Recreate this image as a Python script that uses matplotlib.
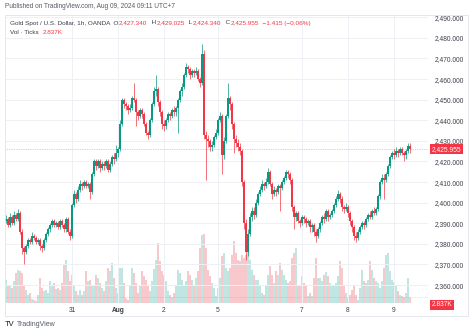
import matplotlib
matplotlib.use("Agg")
import matplotlib.pyplot as plt
import matplotlib.patches as mpatches
import matplotlib.transforms as mtransforms
import numpy as np
import pandas as pd

# hourly closes, XAUUSD (OANDA), Jul 29 14:00 -> Aug 9 09:00 UTC+7
closes = [
    2392, 2389, 2393, 2390, 2394, 2392, 2395, 2386, 2378, 2376,
    2379, 2382, 2381, 2384, 2383, 2381, 2382, 2379, 2378, 2382,
    2385, 2387, 2389, 2391, 2389, 2390, 2388, 2391, 2389, 2387,
    2392, 2386, 2384, 2399, 2404, 2402, 2406, 2409, 2408, 2410,
    2408, 2409, 2405, 2414, 2420, 2418, 2420, 2417, 2419, 2418,
    2420, 2416, 2419, 2422, 2421, 2424, 2426, 2438, 2450, 2448,
    2447, 2445, 2446, 2451, 2450, 2444, 2442, 2445, 2443, 2438,
    2434, 2433, 2440, 2448, 2454, 2455, 2449, 2444, 2438, 2437,
    2440, 2443, 2442, 2445, 2444, 2446, 2450, 2454, 2456, 2462,
    2466, 2465, 2462, 2464, 2463, 2464, 2460, 2458, 2472, 2433,
    2431, 2430, 2427, 2428, 2432, 2434, 2440, 2442, 2423, 2430,
    2442, 2451, 2448, 2438, 2431, 2429, 2427, 2425, 2410, 2390,
    2376, 2385, 2393, 2396, 2394, 2400, 2404, 2406, 2409, 2408,
    2410, 2415, 2409, 2404, 2406, 2405, 2408, 2407, 2410, 2412,
    2415, 2414, 2411, 2398, 2393, 2395, 2391, 2390, 2393, 2392,
    2390, 2391, 2388, 2389, 2386, 2384, 2387, 2390, 2393, 2392,
    2396, 2393, 2394, 2396, 2399, 2402, 2404, 2402, 2398, 2397,
    2398, 2395, 2391, 2388, 2384, 2383, 2386, 2388, 2390, 2389,
    2392, 2394, 2393, 2396, 2395, 2397, 2403, 2410, 2412, 2411,
    2414, 2418, 2422, 2424, 2423, 2425, 2424, 2426, 2424, 2423,
    2425, 2427.37, 2425.955,
]
first_open = 2391
last_open = 2427.34

highs = [
    2394, 2393, 2395, 2394, 2396, 2395, 2397, 2396, 2387, 2379,
    2380, 2383, 2383, 2386, 2385, 2384, 2383, 2383, 2380, 2383,
    2386, 2388, 2390, 2392, 2392, 2391, 2391, 2392, 2392, 2390,
    2393, 2393, 2387, 2400, 2406, 2405, 2408, 2411, 2410, 2411,
    2411, 2410, 2410, 2415, 2421, 2421, 2421, 2421, 2420, 2420,
    2421, 2421, 2420, 2423, 2424, 2428, 2427, 2440, 2451, 2451,
    2449, 2448, 2448, 2452, 2458, 2451, 2445, 2446, 2446, 2444,
    2439, 2435, 2441, 2449, 2456, 2462, 2456, 2450, 2445, 2440,
    2441, 2444, 2444, 2446, 2447, 2447, 2451, 2455, 2458, 2463,
    2468, 2467, 2466, 2465, 2465, 2466, 2465, 2461, 2477, 2474,
    2435, 2433, 2431, 2430, 2433, 2436, 2441, 2444, 2443, 2432,
    2443, 2458, 2452, 2449, 2439, 2433, 2431, 2429, 2426, 2411,
    2392, 2387, 2395, 2398, 2398, 2402, 2405, 2408, 2411, 2410,
    2412, 2417, 2416, 2410, 2408, 2407, 2409, 2409, 2411, 2413,
    2416, 2416, 2415, 2412, 2399, 2396, 2396, 2392, 2394, 2394,
    2393, 2392, 2392, 2390, 2390, 2387, 2388, 2391, 2394, 2395,
    2397, 2397, 2395, 2397, 2400, 2403, 2406, 2405, 2403, 2399,
    2400, 2399, 2396, 2392, 2389, 2386, 2387, 2389, 2391, 2391,
    2393, 2395, 2396, 2397, 2398, 2398, 2404, 2411, 2414, 2414,
    2415, 2419, 2423, 2425, 2426, 2427, 2426, 2427, 2427, 2425,
    2426, 2429, 2429.025,
]

lows = [
    2390, 2388, 2388, 2389, 2389, 2391, 2391, 2385, 2375, 2370,
    2375, 2378, 2380, 2380, 2382, 2380, 2380, 2377, 2376, 2377,
    2381, 2384, 2386, 2388, 2388, 2388, 2387, 2387, 2388, 2386,
    2386, 2385, 2382, 2383, 2398, 2400, 2401, 2405, 2406, 2407,
    2407, 2407, 2402, 2404, 2413, 2416, 2417, 2415, 2416, 2416,
    2417, 2415, 2415, 2418, 2419, 2420, 2422, 2425, 2437, 2446,
    2445, 2443, 2444, 2445, 2449, 2437, 2440, 2441, 2441, 2437,
    2433, 2431, 2432, 2439, 2447, 2452, 2447, 2442, 2436, 2435,
    2436, 2439, 2440, 2441, 2442, 2442, 2434, 2449, 2452, 2455,
    2461, 2463, 2460, 2461, 2461, 2462, 2459, 2456, 2457, 2431,
    2411, 2427, 2425, 2425, 2427, 2431, 2433, 2439, 2414, 2421,
    2429, 2441, 2445, 2436, 2424, 2427, 2425, 2423, 2408, 2387,
    2372, 2374, 2384, 2391, 2392, 2393, 2399, 2403, 2405, 2406,
    2407, 2409, 2408, 2402, 2403, 2403, 2404, 2396, 2406, 2409,
    2411, 2412, 2409, 2396, 2387, 2391, 2390, 2388, 2389, 2390,
    2388, 2389, 2386, 2386, 2384, 2381, 2383, 2386, 2389, 2390,
    2391, 2391, 2392, 2393, 2395, 2398, 2401, 2400, 2396, 2395,
    2396, 2393, 2389, 2386, 2382, 2381, 2382, 2385, 2387, 2387,
    2388, 2391, 2392, 2392, 2394, 2394, 2396, 2402, 2409, 2402,
    2410, 2413, 2417, 2421, 2421, 2422, 2422, 2423, 2423, 2420,
    2421, 2424, 2424.34,
]

# volume in thousands of ticks
volumes = [
    11.5, 9, 8.5, 7.5, 11, 15, 16.5, 16, 15, 9,
    6.5, 4, 5, 2, 1.5, 1, 4, 12.5, 7.5, 6,
    6.5, 5, 11, 8.5, 10, 7, 7.5, 6.5, 10, 19,
    21.5, 16, 11, 14, 8.5, 6, 4, 6.5, 4, 6,
    16, 11, 11.5, 9, 8.5, 14, 12.5, 10, 7.5, 6,
    11, 17.5, 16, 20, 12.5, 7.5, 5, 17.5, 17.5, 10,
    2.5, 1.5, 9, 17.5, 15, 10, 5, 8.5, 16, 13.5,
    11.5, 8.5, 6, 11, 17, 21.5, 30, 21, 16, 14,
    11, 6, 4, 3, 5, 9, 16.5, 15, 11.5, 9,
    11, 16, 14, 11.5, 9, 12.5, 16, 27.5, 34, 34.5,
    27.5, 16.5, 13.5, 10, 7.5, 3.5, 7.5, 12.5, 23.5, 25,
    17.5, 16, 17.5, 24, 31, 25, 21.5, 21, 24, 22.5,
    24, 27.5, 21.5, 16.5, 14, 11.5, 11.5, 8.5, 5, 4,
    9, 14, 18.5, 14, 10, 16, 14, 20, 16.5, 14,
    11.5, 10, 11, 22.5, 25, 27.5, 9, 8.5, 13.5, 10,
    8.5, 3.5, 5, 3.5, 12.5, 22.5, 12.5, 12.5, 11, 14,
    15.5, 13.5, 10, 9, 8.5, 10, 13.5, 21, 17.5, 9,
    5, 2.5, 4, 6.5, 9, 4, 1.5, 7.5, 16.5, 11,
    10, 11.5, 21, 16.5, 12.5, 11, 10, 7.5, 11, 17.5,
    24, 25, 16, 11.5, 10.5, 8.5, 6, 4, 3.5, 3,
    5, 12.5, 2.837,
]

shown_days = ["2024-07-31", "2024-08-01", "2024-08-02", "2024-08-05",
              "2024-08-07", "2024-08-08", "2024-08-09"]
day_labels = ["31", "Aug", "2", "5", "7", "8", "9"]
price_ticks = list(range(2360, 2500, 10))

UP = "#089981"
DOWN = "#f23645"
VOL_UP = "#84cdc5"
VOL_DOWN = "#f2959a"
GRID = "#eef0f5"
TXT = "#3a3e48"

plt.rcParams['font.family'] = ['Liberation Sans', 'DejaVu Sans']

# trading hours: daily break at 04:00, weekend from Sat 04:00 to Mon 05:00
hours = pd.date_range("2024-07-29 14:00", "2024-08-09 09:00", freq="h")
keep = []
for t in hours:
    if t.hour == 4:
        continue
    if t.dayofweek == 5 and t.hour > 4:
        continue
    if t.dayofweek == 6:
        continue
    if t.dayofweek == 0 and t.hour < 5:
        continue
    keep.append(t)
times = pd.DatetimeIndex(keep)
n = len(closes)
times = times[:n]
xs = np.arange(n)

c = np.array(closes, dtype=float)
o = np.concatenate([[first_open], c[:-1]])
o[-1] = last_open
h = np.array(highs, dtype=float)
l = np.array(lows, dtype=float)
v = np.array(volumes, dtype=float)
up = c >= o

W, H = 474, 335
fig = plt.figure(figsize=(W / 100, H / 100), dpi=100)
fig.patch.set_facecolor("white")

# chart pane, in pixels: x 5..428, y 15..303
ax = fig.add_axes([5 / W, 1 - 303 / H, 423 / W, 288 / H])
vax = ax.twinx()
ax.set_zorder(vax.get_zorder() + 1)
ax.patch.set_visible(False)

# volume
vcols = [VOL_UP if u else VOL_DOWN for u in up]
vbars = vax.bar(xs, v, width=0.5, color=vcols, linewidth=0)
for b in vbars:
    b.set_snap(False)
vax.set_ylim(0, 144)
vax.axis("off")

# candles
cols = np.where(up, UP, DOWN)
ax.vlines(xs, l, h, colors=cols, linewidth=0.5, zorder=3)
body = np.maximum(np.abs(c - o), 0.35)
ax.bar(xs, body, bottom=np.minimum(o, c), width=0.6, color=cols,
       linewidth=0, zorder=4)

ax.set_xlim(-0.5, 211)
ax.set_ylim(2351.3, 2491.1)

# grid
tick_pos = [int(np.argmax(times.normalize() == pd.Timestamp(d))) for d in shown_days]
for tp in tick_pos:
    ax.axvline(tp, color=GRID, linewidth=0.7, zorder=0)
for p in price_ticks:
    ax.axhline(p, color=GRID, linewidth=0.7, zorder=0)

# last price line
last = c[-1]
ax.axhline(last, color=DOWN, linewidth=0.5, linestyle=(0, (1, 1.5)), alpha=0.6, zorder=2)
vax.axhline(v[-1], color=DOWN, linewidth=0.5, linestyle=(0, (1, 1.5)), alpha=0.35)

for s in ax.spines.values():
    s.set_visible(False)

ax.set_xticks(tick_pos)
ax.set_xticklabels(day_labels)
ax.tick_params(axis="x", length=0, pad=3.2, labelsize=4.8, labelcolor=TXT)
for lab in ax.get_xticklabels():
    if lab.get_text() == "Aug":
        lab.set_fontweight("bold")

ax.yaxis.tick_right()
ax.set_yticks(price_ticks)
ax.set_yticklabels([f"{p:,.3f}" for p in price_ticks])
ax.tick_params(axis="y", length=0, pad=5, labelsize=4.8, labelcolor=TXT)

# price scale labels
trans = mtransforms.blended_transform_factory(ax.transAxes, ax.transData)
ax.text(1.008, last, f"{last:,.3f}", transform=trans, fontsize=4.8,
        color="white", va="center", ha="left",
        bbox=dict(boxstyle="square,pad=0.25", fc=DOWN, ec="none"), zorder=10)
fig.text(432 / W, 1 - 305 / H, f"{v[-1]:.3f}K", fontsize=4.8, color="white",
         va="center", ha="left",
         bbox=dict(boxstyle="square,pad=0.25", fc=DOWN, ec="none"))

# outer frame
fig.patches.append(mpatches.Rectangle((5 / W, 1 - 316 / H), 463 / W, 301 / H,
                                      transform=fig.transFigure, fill=False,
                                      ec="#e0e3eb", lw=0.6))

fig.canvas.draw()
renderer = fig.canvas.get_renderer()


def text_run(x, y, pieces, size):
    # draws text pieces side by side starting at pixel x
    for s, col in pieces:
        t = fig.text(x / W, 1 - y / H, s, fontsize=size, color=col, va="center", ha="left")
        x = t.get_window_extent(renderer).x1 + 0.5
    return x


chg = c[-2] - c[-1]
text_run(5, 7, [("Published on TradingView.com, Aug 09, 2024 09:11 UTC+7", "#555a66")], 4.7)
text_run(10, 23, [("Gold Spot / U.S. Dollar, 1h, OANDA  O", TXT),
                  (f"{o[-1]:,.3f}", DOWN), ("  H", TXT), (f"{h[-1]:,.3f}", DOWN),
                  ("  L", TXT), (f"{l[-1]:,.3f}", DOWN), ("  C", TXT),
                  (f"{c[-1]:,.3f}", DOWN),
                  (f"  \u2212{chg:.3f} (\u2212{chg / c[-2] * 100:.2f}%)", DOWN)], 4.6)
text_run(10, 33, [("Vol \u00b7 Ticks  ", TXT), (f"{v[-1]:.3f}K", DOWN)], 4.6)
text_run(5, 325, [("TV", "#131722")], 5.4)
text_run(17, 325, [("TradingView", "#555a66")], 5.0)

fig.savefig("out.png", dpi=100, facecolor="white")
